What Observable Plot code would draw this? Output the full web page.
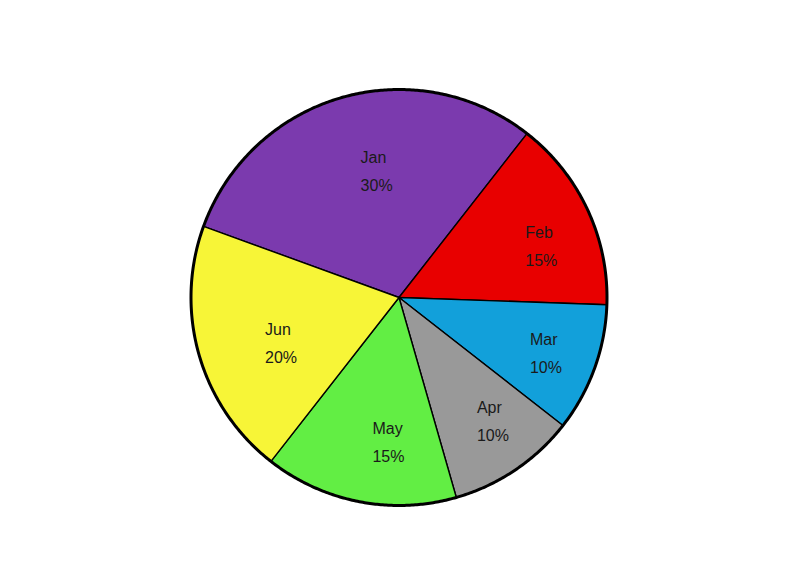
<!DOCTYPE html>
<html>
<head>
<meta charset="utf-8">
<script src="https://cdn.jsdelivr.net/npm/d3@7"></script>
<script src="https://cdn.jsdelivr.net/npm/@observablehq/plot@0.6"></script>
<style>
  html, body { margin: 0; padding: 0; background: #ffffff; }
  #chart { width: 810px; height: 576px; }
</style>
</head>
<body>
<div id="chart"></div>
<script>
const months = ["Jan", "Feb", "Mar", "Apr", "May", "Jun"];
const shares = [30, 15, 10, 10, 15, 20];
const sliceColors = ["#7b3aae", "#e80000", "#12a0da", "#999999", "#62ee44", "#f7f537"];
const startDeg = -70;

const rows = months.map((m, i) => ({month: m, share: shares[i]}));
const arcs = d3.pie().sort(null).value(d => d.share)
  .startAngle(startDeg * Math.PI / 180)
  .endAngle((startDeg + 360) * Math.PI / 180)(rows);

// polygon outline of each slice (center -> arc -> center)
const slicePts = [];
for (const a of arcs) {
  const m = a.data.month;
  slicePts.push({month: m, x: 0, y: 0});
  const n = Math.max(2, Math.ceil((a.endAngle - a.startAngle) / (Math.PI / 360)));
  for (let k = 0; k <= n; k++) {
    const t = a.startAngle + (a.endAngle - a.startAngle) * k / n;
    slicePts.push({month: m, x: Math.sin(t), y: Math.cos(t)});
  }
  slicePts.push({month: m, x: 0, y: 0});
}
const rim = d3.range(0, 721).map(k => {
  const t = k * Math.PI / 360;
  return {x: Math.sin(t), y: Math.cos(t)};
});
const labelR = 0.67;
const labels = arcs.map(a => {
  const mid = (a.startAngle + a.endAngle) / 2;
  return {month: a.data.month, pct: a.data.share + "%", x: labelR * Math.sin(mid), y: labelR * Math.cos(mid)};
});

const chart = Plot.plot({
  width: 810,
  height: 576,
  marginLeft: 190.5,
  marginRight: 203.5,
  marginTop: 89,
  marginBottom: 71,
  x: {domain: [-1, 1], axis: null},
  y: {domain: [-1, 1], axis: null},
  color: {domain: months, range: sliceColors},
  style: {fontFamily: "'Liberation Sans', Arial, sans-serif", background: "#ffffff"},
  marks: [
    Plot.line(slicePts, {x: "x", y: "y", z: "month", fill: "month", stroke: "black", strokeWidth: 1.4, strokeLinejoin: "round", curve: "linear"}),
    Plot.line(rim, {x: "x", y: "y", stroke: "black", strokeWidth: 3, fill: "none"}),
    Plot.text(labels, {x: "x", y: "y", text: "month", textAnchor: "start", lineAnchor: "middle", dy: -5.6, fontSize: 16, fill: "#1a1a1a"}),
    Plot.text(labels, {x: "x", y: "y", text: "pct", textAnchor: "start", lineAnchor: "middle", dy: 22.4, fontSize: 16, fill: "#1a1a1a"})
  ]
});
document.getElementById("chart").appendChild(chart);
</script>
</body>
</html>
